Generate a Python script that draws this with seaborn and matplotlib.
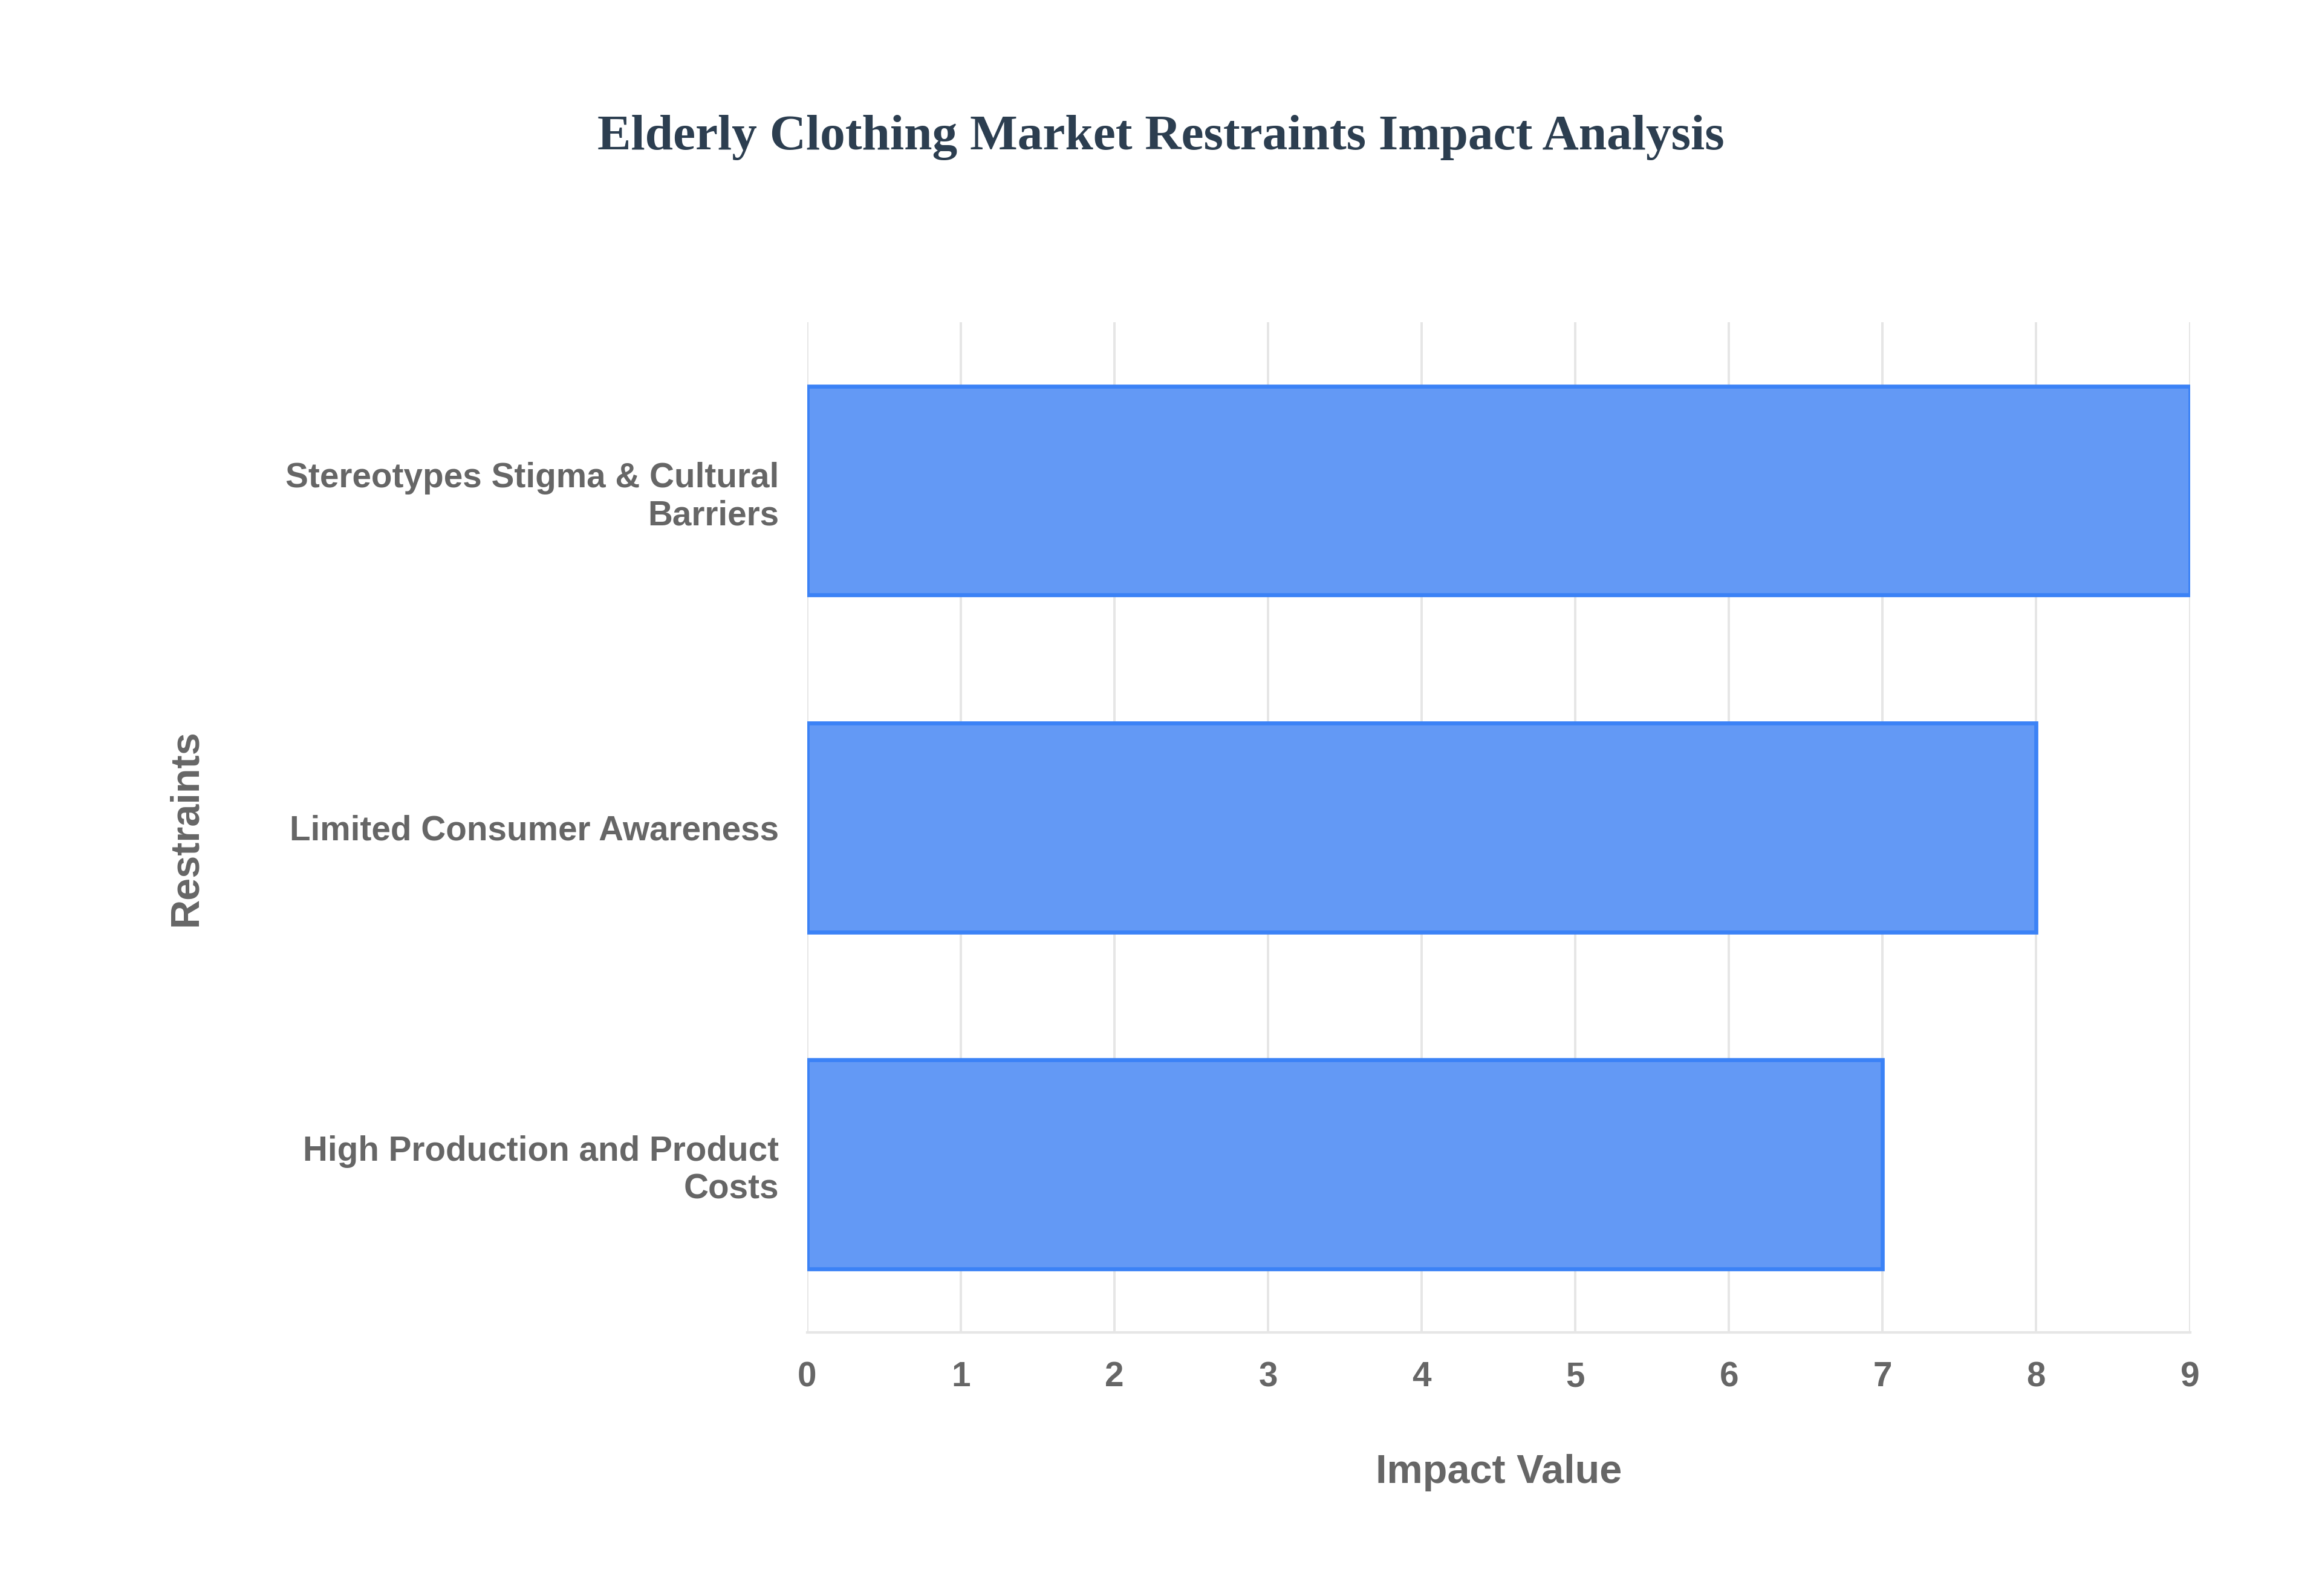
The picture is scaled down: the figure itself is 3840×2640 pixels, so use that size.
import matplotlib
matplotlib.use("Agg")
import matplotlib.pyplot as plt
import seaborn as sns
import pandas as pd

restraints = ["Stereotypes Stigma & Cultural\nBarriers", "Limited Consumer Awareness", "High Production and Product\nCosts"]
impact = [9, 8, 7]
xticks = [0, 1, 2, 3, 4, 5, 6, 7, 8, 9]

df = pd.DataFrame({"Restraints": restraints, "Impact Value": impact})

sns.set_theme(style="white")
plt.rcParams['font.family'] = ['Liberation Sans', 'DejaVu Sans']

fig = plt.figure(figsize=(16, 11), dpi=240)
ax = fig.add_axes([0.3476, 0.165, 0.5955, 0.633])
sns.barplot(data=df, x="Impact Value", y="Restraints", ax=ax, orient="h",
            color="#6399f5", edgecolor="#3b82f6", linewidth=2, width=0.62, saturation=1)
ax.set_xlim(0, 9)
ax.set_xticks(xticks)
ax.grid(axis="x", color="#e6e6e6", linewidth=1.2)
ax.set_axisbelow(True)
for s in ["top", "right", "left"]:
    ax.spines[s].set_visible(False)
ax.spines["bottom"].set_color("#e6e6e6")
ax.tick_params(axis="both", length=0, pad=14, labelsize=17, colors="#666666")
for t in ax.get_xticklabels() + ax.get_yticklabels():
    t.set_fontweight("bold")
ax.set_xlabel("Impact Value", fontsize=20, fontweight="bold", color="#666666", labelpad=30)
ax.set_ylabel("Restraints", fontsize=20, fontweight="bold", color="#666666", labelpad=40)
fig.text(0.5, 0.914, "Elderly Clothing Market Restraints Impact Analysis", ha="center", va="center",
         fontsize=25, fontweight="bold", color="#2c3e50", family=["Liberation Serif", "DejaVu Serif"])
fig.savefig("out.png", dpi=240, facecolor="white")
